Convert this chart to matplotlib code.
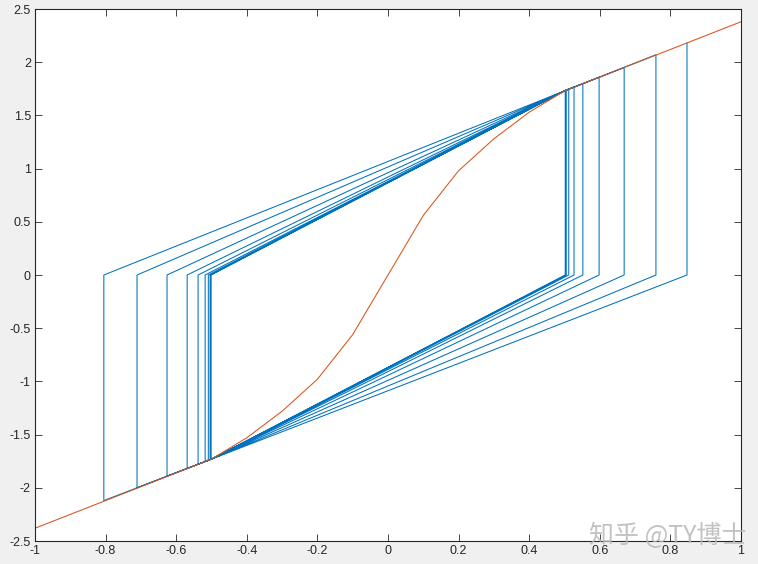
import numpy as np
import matplotlib.pyplot as plt

plt.rcParams['axes.unicode_minus'] = False
plt.rcParams['font.family'] = ['Liberation Sans', 'DejaVu Sans']

# orange reference curve
curve_x = [-1, -0.9, -0.8, -0.7, -0.6, -0.5, -0.4, -0.3, -0.2, -0.1, 0,
           0.1, 0.2, 0.3, 0.4, 0.5, 0.6, 0.7, 0.8, 0.9, 1]
curve_y = [-2.38, -2.25, -2.12, -1.99, -1.86, -1.73, -1.53, -1.28, -0.98, -0.56, 0,
           0.56, 0.98, 1.28, 1.53, 1.73, 1.86, 1.99, 2.12, 2.25, 2.38]

# blue loops: turning points
right_x = [0.847, 0.759, 0.669, 0.598, 0.552, 0.527, 0.512, 0.505, 0.502]
right_top = [2.18, 2.07, 1.95, 1.86, 1.80, 1.77, 1.75, 1.74, 1.73]
left_x = [-0.805, -0.711, -0.626, -0.569, -0.538, -0.518, -0.509, -0.504, -0.501]
left_bot = [-2.12, -2.00, -1.89, -1.82, -1.78, -1.75, -1.74, -1.735, -1.73]
top_join = (0.5, 1.73)
bot_join = (-0.5, -1.73)

# build the path: down at right, over to the lower line, up at left, back to upper line
px, py = [], []
for i in range(len(right_x)):
    px += [right_x[i], right_x[i], bot_join[0], left_x[i], left_x[i], top_join[0]]
    py += [right_top[i], 0, bot_join[1], left_bot[i], 0, top_join[1]]

fig = plt.figure(figsize=(7.58, 5.64), dpi=100, facecolor='#f0f0f0')
ax = fig.add_axes([35/758, 1-541/564, 706/758, 532/564])
ax.set_facecolor('white')

ax.plot(px, py, color='#0072BD', lw=0.75)
ax.plot(curve_x, curve_y, color='#D95319', lw=0.75)

ax.set_xlim(-1, 1)
ax.set_ylim(-2.5, 2.5)
ax.set_xticks(np.arange(-1, 1.01, 0.2))
ax.set_yticks(np.arange(-2.5, 2.51, 0.5))
ax.set_xticklabels(['-1', '-0.8', '-0.6', '-0.4', '-0.2', '0', '0.2', '0.4', '0.6', '0.8', '1'])
ax.set_yticklabels(['-2.5', '-2', '-1.5', '-1', '-0.5', '0', '0.5', '1', '1.5', '2', '2.5'])
ax.tick_params(direction='in', top=True, right=True, length=5, width=0.6,
               labelsize=9, colors='#262626', pad=3)
for s in ax.spines.values():
    s.set_color('#262626')
    s.set_linewidth(0.8)

fig.text(0.985, 0.05, '知乎 @TY博士', ha='right', va='center', fontsize=18,
         color='#b8b8b8', alpha=0.85, family=['Noto Sans CJK SC', 'DejaVu Sans'])

fig.savefig('out.png', dpi=100, facecolor=fig.get_facecolor())
